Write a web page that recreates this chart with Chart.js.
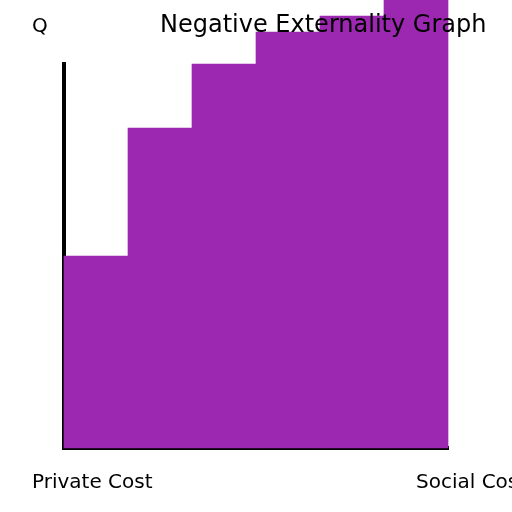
<!DOCTYPE html>
<html>
<head>
<meta charset="utf-8">
<script src="https://cdn.jsdelivr.net/npm/chart.js@4/dist/chart.umd.min.js"></script>
<style>
html,body{margin:0;padding:0;background:#fff;}
#wrap{width:512px;height:512px;position:relative;}
</style>
</head>
<body>
<div id="wrap"><canvas id="c" width="512" height="512"></canvas></div>
<script>
const categories = ["1", "2", "3", "4", "5", "6"];
const values = [3, 5, 6, 6.5, 6.75, 7];
const titleText = "Negative Externality Graph";
const yLabel = "Q";
const xLabelLeft = "Private Cost";
const xLabelRight = "Social Cost";

const textPlugin = {
  id: 'texts',
  afterDraw(chart) {
    const ctx = chart.ctx;
    ctx.save();
    ctx.fillStyle = '#000';
    ctx.textAlign = 'left';
    ctx.textBaseline = 'alphabetic';
    ctx.font = '24px "DejaVu Sans"';
    ctx.fillText(titleText, 160, 32);
    ctx.font = '20px "DejaVu Sans"';
    ctx.fillText(yLabel, 32, 32);
    ctx.fillText(xLabelLeft, 32, 488);
    ctx.fillText(xLabelRight, 416, 488);
    ctx.restore();
  }
};

new Chart(document.getElementById('c'), {
  type: 'bar',
  data: {
    labels: categories,
    datasets: [{
      data: values,
      backgroundColor: '#9C27B0',
      borderWidth: 0,
      categoryPercentage: 1,
      barPercentage: 1,
      clip: false
    }]
  },
  options: {
    responsive: false,
    animation: false,
    devicePixelRatio: 1,
    layout: { padding: { left: 64, right: 64, top: 64, bottom: 64 } },
    plugins: { legend: { display: false }, title: { display: false }, tooltip: { enabled: false } },
    scales: {
      x: {
        grid: { display: false },
        ticks: { display: false },
        border: { display: true, color: '#000', width: 4 },
        afterFit(s) { s.height = 0; }
      },
      y: {
        min: 0, max: 6,
        grid: { display: false },
        ticks: { display: false },
        border: { display: true, color: '#000', width: 4 },
        afterFit(s) { s.width = 0; }
      }
    }
  },
  plugins: [textPlugin]
});
</script>
</body>
</html>
